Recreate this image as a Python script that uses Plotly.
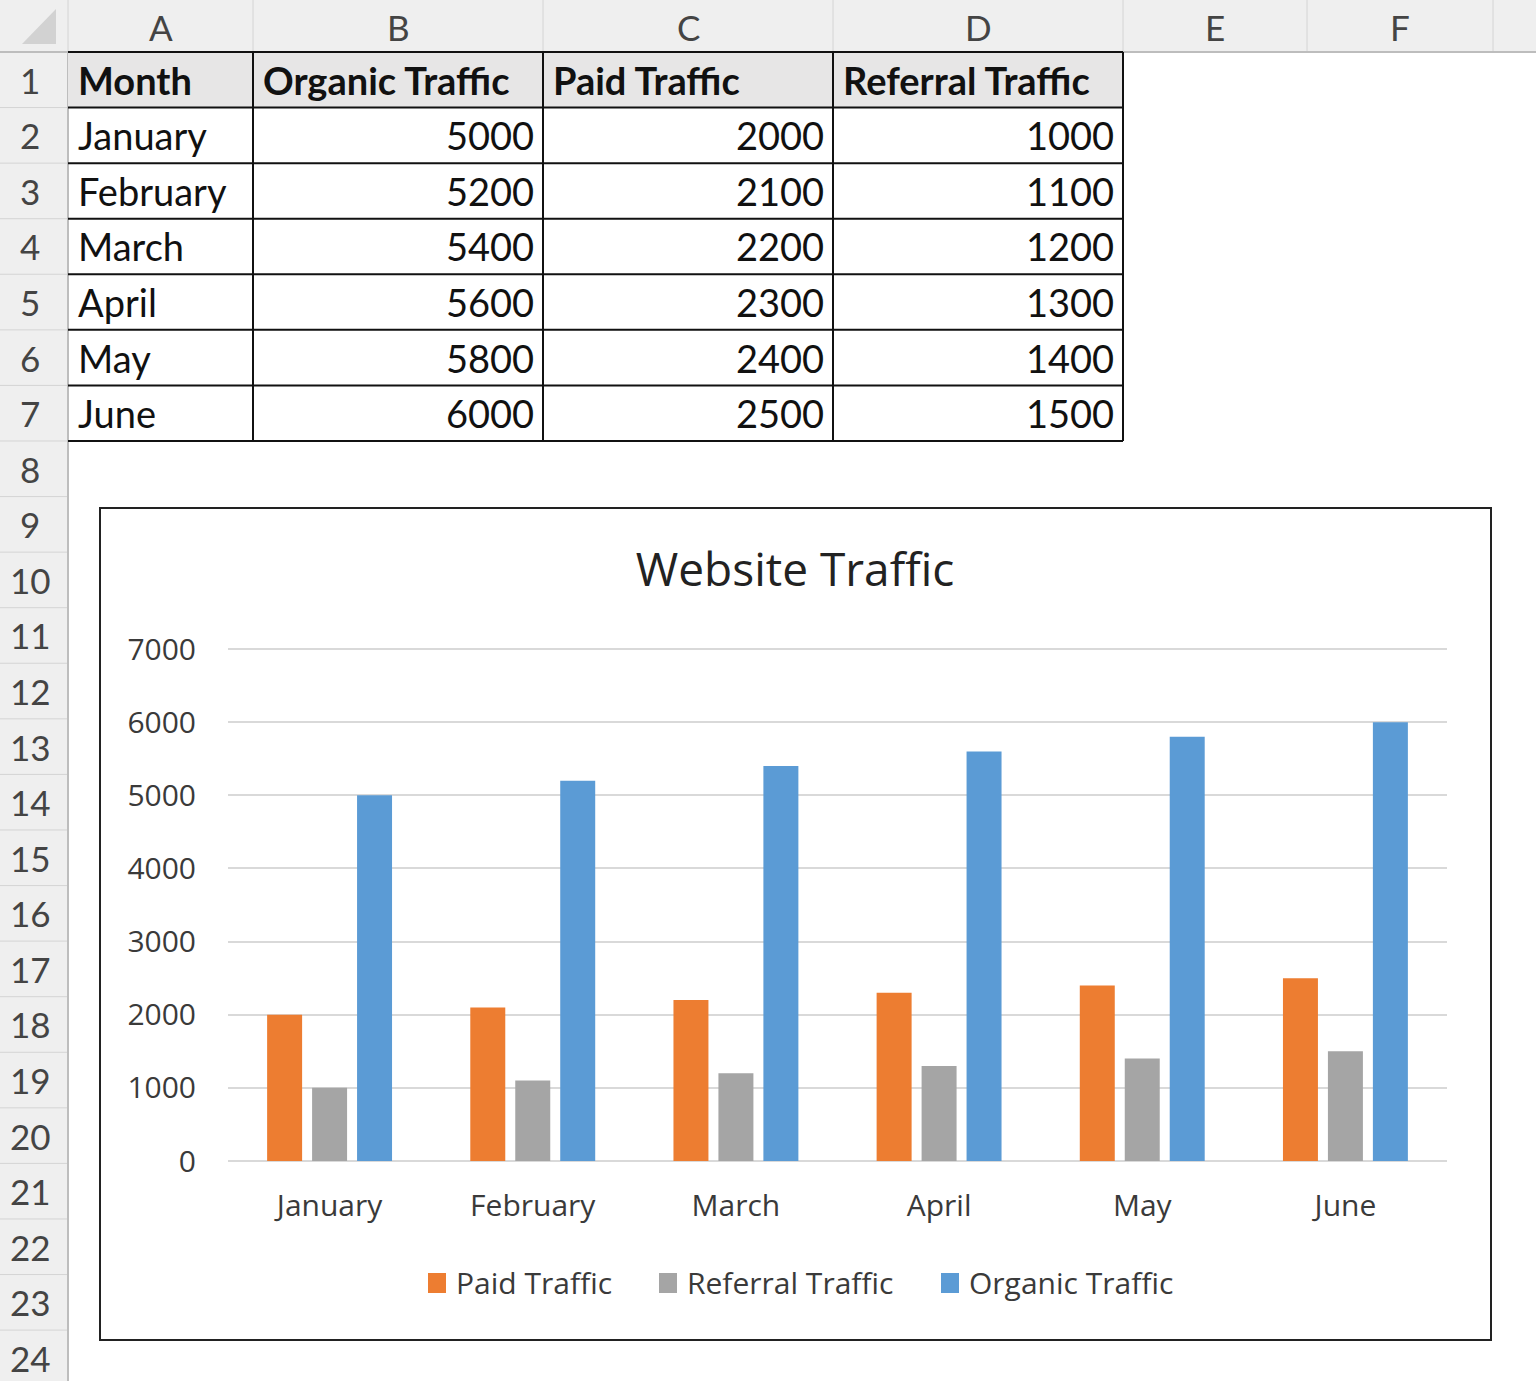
import plotly.graph_objects as go

# ---------------- data ----------------
months = ["January", "February", "March", "April", "May", "June"]
organic = [5000, 5200, 5400, 5600, 5800, 6000]
paid = [2000, 2100, 2200, 2300, 2400, 2500]
referral = [1000, 1100, 1200, 1300, 1400, 1500]
table_headers = ["Month", "Organic Traffic", "Paid Traffic", "Referral Traffic"]
col_letters = ["A", "B", "C", "D", "E", "F"]
row_numbers = list(range(1, 25))
y_ticks = [0, 1000, 2000, 3000, 4000, 5000, 6000, 7000]

series_names = ["Paid Traffic", "Referral Traffic", "Organic Traffic"]
series_values = [paid, referral, organic]
series_colors = ["#ED7D31", "#A5A5A5", "#5B9BD5"]

# ---------------- layout helpers ----------------
W, H = 1536, 1381


def px(x):
    return x / W


def py(y):
    return 1 - y / H


col_edges = [68, 253, 543, 833, 1123, 1307, 1493]
hdr_h = 52
row_h = 55.57

shapes = []
annotations = []

# header backgrounds
shapes.append(dict(type="rect", xref="paper", yref="paper", x0=0, x1=1, y0=py(hdr_h), y1=1,
                   fillcolor="#efefef", line=dict(width=0), layer="below"))
shapes.append(dict(type="rect", xref="paper", yref="paper", x0=0, x1=px(col_edges[0]), y0=0, y1=1,
                   fillcolor="#efefef", line=dict(width=0), layer="below"))
# corner triangle
shapes.append(dict(type="path", xref="paper", yref="paper",
                   path=f"M {px(56)},{py(9)} L {px(56)},{py(44)} L {px(22)},{py(44)} Z",
                   fillcolor="#d2d2d2", line=dict(width=0), layer="below"))
# column header separators
for e in col_edges:
    shapes.append(dict(type="line", xref="paper", yref="paper", x0=px(e), x1=px(e), y0=py(0), y1=py(hdr_h),
                       line=dict(color="#d4d4d4", width=1), layer="below"))
# row header separators
for i in range(0, 26):
    yy = hdr_h + i * row_h
    shapes.append(dict(type="line", xref="paper", yref="paper", x0=0, x1=px(col_edges[0]), y0=py(yy), y1=py(yy),
                       line=dict(color="#d4d4d4", width=1), layer="below"))
# header borders
shapes.append(dict(type="line", xref="paper", yref="paper", x0=0, x1=1, y0=py(hdr_h), y1=py(hdr_h),
                   line=dict(color="#bdbdbd", width=2), layer="below"))
shapes.append(dict(type="line", xref="paper", yref="paper", x0=px(col_edges[0]), x1=px(col_edges[0]), y0=0, y1=py(hdr_h),
                   line=dict(color="#bdbdbd", width=2), layer="below"))

# column letters
for i, letter in enumerate(col_letters):
    cx = (col_edges[i] + col_edges[i + 1]) / 2
    annotations.append(dict(x=px(cx), y=py(27), xref="paper", yref="paper", text=letter, showarrow=False,
                            font=dict(family="Lato", size=35, color="#444444"), xanchor="center", yanchor="middle"))
# row numbers
for r in row_numbers:
    cy = hdr_h + (r - 0.5) * row_h
    annotations.append(dict(x=px(30), y=py(cy), xref="paper", yref="paper", text=str(r), showarrow=False,
                            font=dict(family="Lato", size=35, color="#444444"), xanchor="center", yanchor="middle"))

# table
n_rows = len(months) + 1
tbl_x0, tbl_x1 = col_edges[0], col_edges[4]
tbl_y0 = hdr_h
tbl_y1 = hdr_h + n_rows * row_h
shapes.append(dict(type="rect", xref="paper", yref="paper", x0=px(tbl_x0), x1=px(tbl_x1),
                   y0=py(hdr_h + row_h), y1=py(hdr_h), fillcolor="#e7e6e6", line=dict(width=0), layer="below"))
for i in range(n_rows + 1):
    yy = hdr_h + i * row_h
    shapes.append(dict(type="line", xref="paper", yref="paper", x0=px(tbl_x0), x1=px(tbl_x1), y0=py(yy), y1=py(yy),
                       line=dict(color="#111111", width=2), layer="below"))
for e in col_edges[1:5]:
    shapes.append(dict(type="line", xref="paper", yref="paper", x0=px(e), x1=px(e), y0=py(tbl_y0), y1=py(tbl_y1),
                       line=dict(color="#111111", width=2), layer="below"))

cell_font = dict(family="Lato", size=38, color="#111111")
for j, h in enumerate(table_headers):
    annotations.append(dict(x=px(col_edges[j] + 8), y=py(hdr_h + 0.5 * row_h), xref="paper", yref="paper",
                            text=f"<b>{h}</b>", showarrow=False, font=cell_font, xanchor="left", yanchor="middle"))
for i, m in enumerate(months):
    cy = py(hdr_h + (i + 1.5) * row_h)
    annotations.append(dict(x=px(col_edges[0] + 8), y=cy, xref="paper", yref="paper", text=m, showarrow=False,
                            font=cell_font, xanchor="left", yanchor="middle"))
    for j, val in enumerate([organic[i], paid[i], referral[i]]):
        annotations.append(dict(x=px(col_edges[j + 2] - 7), y=cy, xref="paper", yref="paper", text=str(val),
                                showarrow=False, font=cell_font, xanchor="right", yanchor="middle"))

# chart box
shapes.append(dict(type="rect", xref="paper", yref="paper", x0=px(100), x1=px(1491), y0=py(1340), y1=py(508),
                   fillcolor="white", line=dict(color="#222222", width=2), layer="below"))

# ---------------- chart ----------------
axis_font = dict(family="Open Sans", size=30, color="#3a3a3a")

fig = go.Figure()
for name, vals, color in zip(series_names, series_values, series_colors):
    fig.add_trace(go.Bar(name=name, x=months, y=vals, marker=dict(color=color, line=dict(width=0)),
                         showlegend=False))

# legend (swatch + label per series), laid out like Excel's bottom legend
legend_x = [428, 659, 941]
for name, color, lx in zip(series_names, series_colors, legend_x):
    shapes.append(dict(type="rect", xref="paper", yref="paper", x0=px(lx), x1=px(lx + 18),
                       y0=py(1293), y1=py(1273), fillcolor=color, line=dict(width=0), layer="above"))
    annotations.append(dict(x=px(lx + 26), y=py(1282), xref="paper", yref="paper", text=name, showarrow=False,
                            font=axis_font, xanchor="left", yanchor="middle"))

# y range padded a few pixels so the 0 and 7000 gridlines are drawn
y_lo, y_hi = -50, 7050
y0_px, y7k_px = 1161, 649
ppu = (y0_px - y7k_px) / 7000
dom_bottom = py(y0_px + (0 - y_lo) * ppu)
dom_top = py(y7k_px - (y_hi - 7000) * ppu)

fig.update_layout(
    width=W, height=H, autosize=False,
    margin=dict(l=0, r=0, t=0, b=0, pad=0, autoexpand=False),
    paper_bgcolor="white", plot_bgcolor="rgba(0,0,0,0)",
    barmode="group", bargap=0.336, bargroupgap=0.222,
    shapes=shapes, annotations=annotations,
    title=dict(text="Website Traffic", x=px(795), y=py(570), xref="paper", yref="paper",
               xanchor="center", yanchor="middle",
               font=dict(family="Open Sans", size=46, color="#222222")),
    xaxis=dict(domain=[px(228), px(1447)], showgrid=False, zeroline=False, showline=False, automargin=False,
               ticks="outside", ticklen=14, tickcolor="rgba(0,0,0,0)", tickfont=axis_font),
    yaxis=dict(domain=[dom_bottom, dom_top], range=[y_lo, y_hi], tickvals=y_ticks, showgrid=True,
               gridcolor="#d9d9d9", gridwidth=1.5, zeroline=False, showline=False, automargin=False,
               ticks="outside", ticklen=25, tickcolor="rgba(0,0,0,0)", tickfont=axis_font),
    showlegend=False,
)

fig.write_html("out.html")
